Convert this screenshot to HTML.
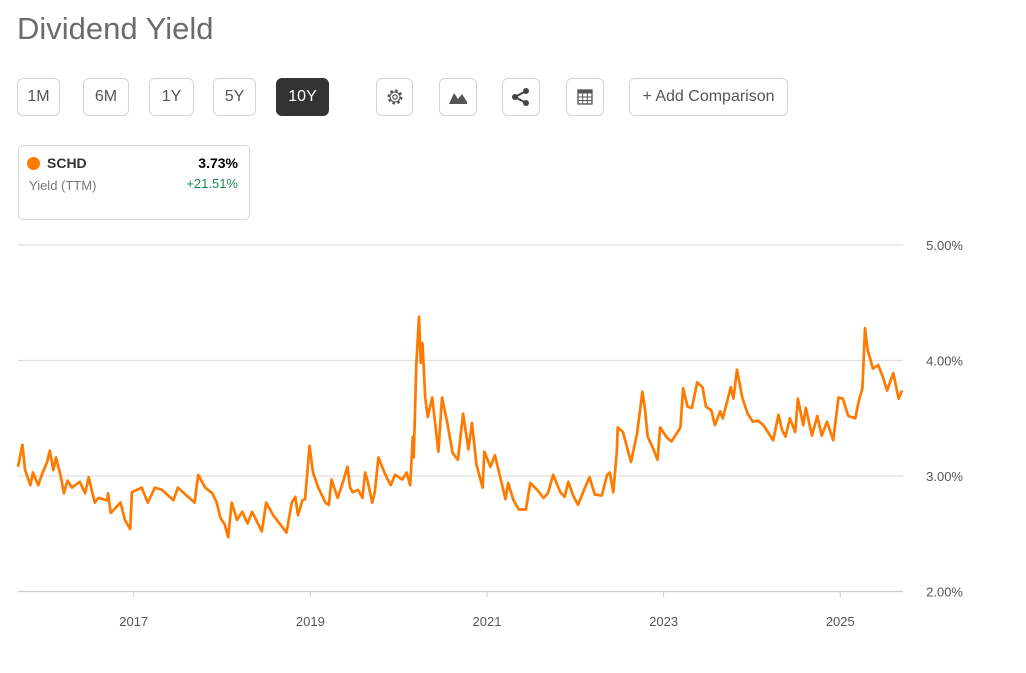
<!DOCTYPE html>
<html><head><meta charset="utf-8">
<style>
body{margin:0;width:1026px;height:673px;background:#fff;font-family:"Liberation Sans",Arial,sans-serif;position:relative;overflow:hidden}
.t{position:absolute;left:17px;top:11px;font-size:31px;color:#6b6b6b}
.b{position:absolute;top:78px;height:38px;box-sizing:border-box;border:1px solid #d4d4d4;border-radius:6px;display:flex;align-items:center;justify-content:center;font-size:16px;color:#555;background:#fff}
.b.on{background:#333;color:#fff;border-color:#333}
.lg{position:absolute;left:18px;top:145px;width:232px;height:75px;box-sizing:border-box;border:1px solid #d6d6d6;border-radius:5px}
</style></head><body>
<div class="t">Dividend Yield</div>
<div class="b" style="left:17px;width:43px">1M</div>
<div class="b" style="left:83px;width:46px">6M</div>
<div class="b" style="left:149px;width:45px">1Y</div>
<div class="b" style="left:213px;width:43px">5Y</div>
<div class="b on" style="left:276px;width:53px">10Y</div>
<div class="b" style="left:376px;width:37px"><svg width="20" height="20" viewBox="0 0 20 20"><circle cx="10" cy="10" r="6" fill="none" stroke="#555" stroke-width="3" stroke-dasharray="2.4 2.3"/><circle cx="10" cy="10" r="5" fill="#fff" stroke="#555" stroke-width="1.1"/><circle cx="10" cy="10" r="2.2" fill="none" stroke="#555" stroke-width="1.2"/></svg></div>
<div class="b" style="left:439px;width:38px"><svg width="20" height="16" viewBox="0 0 20 16"><path d="M1 15 L6 4 L10 10 L14 5 L19 13 L19 15 Z" fill="#555"/></svg></div>
<div class="b" style="left:502px;width:38px"><svg width="20" height="18" viewBox="0 0 20 18"><line x1="4" y1="9" x2="15" y2="3" stroke="#444" stroke-width="2"/><line x1="4" y1="9" x2="15" y2="15" stroke="#444" stroke-width="2"/><circle cx="4" cy="9" r="3" fill="#444"/><circle cx="15" cy="3" r="3" fill="#444"/><circle cx="15" cy="15" r="3" fill="#444"/></svg></div>
<div class="b" style="left:566px;width:38px"><svg width="16" height="16" viewBox="0 0 16 16"><rect x="1" y="1" width="14" height="14" fill="none" stroke="#555" stroke-width="1.3"/><rect x="1" y="1" width="14" height="3.5" fill="#555"/><line x1="1" y1="8" x2="15" y2="8" stroke="#555"/><line x1="1" y1="11.5" x2="15" y2="11.5" stroke="#555"/><line x1="5.7" y1="4" x2="5.7" y2="15" stroke="#555"/><line x1="10.3" y1="4" x2="10.3" y2="15" stroke="#555"/></svg></div>
<div class="b" style="left:629px;width:159px">+ Add Comparison</div>
<div class="lg">
<div style="position:absolute;left:8px;top:11px;width:13px;height:13px;border-radius:50%;background:#ff7a00"></div>
<div style="position:absolute;left:28px;top:9px;font-size:14px;font-weight:bold;color:#333">SCHD</div>
<div style="position:absolute;right:11px;top:9px;font-size:14px;font-weight:bold;color:#000">3.73%</div>
<div style="position:absolute;left:10px;top:32px;font-size:13px;color:#777">Yield (TTM)</div>
<div style="position:absolute;right:11px;top:30px;font-size:13px;color:#1a8a4a">+21.51%</div>
</div>
<svg id="ch" width="1026" height="673" style="position:absolute;left:0;top:0"></svg>
<script>
const dates=[2015.69,2015.74,2015.77,2015.83,2015.86,2015.92,2015.96,2016.02,2016.05,2016.09,2016.12,2016.17,2016.21,2016.25,2016.30,2016.39,2016.45,2016.49,2016.53,2016.56,2016.60,2016.70,2016.71,2016.74,2016.85,2016.90,2016.96,2016.98,2017.09,2017.16,2017.24,2017.32,2017.45,2017.50,2017.60,2017.69,2017.73,2017.81,2017.89,2017.94,2017.98,2018.03,2018.07,2018.11,2018.17,2018.23,2018.29,2018.34,2018.45,2018.50,2018.58,2018.66,2018.73,2018.75,2018.79,2018.83,2018.86,2018.91,2018.94,2018.99,2019.03,2019.09,2019.17,2019.21,2019.24,2019.31,2019.37,2019.42,2019.45,2019.48,2019.54,2019.59,2019.62,2019.65,2019.70,2019.73,2019.77,2019.85,2019.91,2019.96,2020.04,2020.09,2020.13,2020.16,2020.17,2020.20,2020.23,2020.25,2020.27,2020.30,2020.33,2020.38,2020.45,2020.49,2020.55,2020.61,2020.67,2020.73,2020.79,2020.83,2020.88,2020.95,2020.97,2021.04,2021.09,2021.15,2021.21,2021.24,2021.30,2021.36,2021.44,2021.49,2021.57,2021.64,2021.69,2021.75,2021.83,2021.88,2021.92,2021.97,2022.03,2022.11,2022.16,2022.22,2022.30,2022.36,2022.39,2022.43,2022.47,2022.48,2022.54,2022.63,2022.70,2022.76,2022.79,2022.82,2022.88,2022.93,2022.96,2023.04,2023.09,2023.19,2023.22,2023.27,2023.32,2023.38,2023.44,2023.48,2023.54,2023.58,2023.64,2023.67,2023.76,2023.79,2023.83,2023.89,2023.95,2024.01,2024.07,2024.13,2024.18,2024.24,2024.30,2024.34,2024.38,2024.43,2024.49,2024.52,2024.58,2024.61,2024.68,2024.74,2024.79,2024.85,2024.92,2024.98,2025.03,2025.09,2025.17,2025.21,2025.25,2025.28,2025.31,2025.37,2025.43,2025.48,2025.53,2025.60,2025.66,2025.70];
const yields=[3.08,3.27,3.05,2.92,3.03,2.92,3.01,3.12,3.22,3.05,3.16,3.01,2.85,2.96,2.90,2.95,2.85,2.99,2.86,2.77,2.81,2.79,2.85,2.68,2.77,2.62,2.54,2.86,2.90,2.77,2.90,2.88,2.79,2.90,2.83,2.77,3.01,2.90,2.85,2.77,2.64,2.58,2.47,2.77,2.62,2.69,2.59,2.69,2.52,2.77,2.66,2.58,2.51,2.60,2.77,2.82,2.66,2.79,2.80,3.26,3.03,2.90,2.77,2.75,2.97,2.81,2.95,3.08,2.90,2.86,2.88,2.81,3.03,2.95,2.77,2.86,3.16,3.01,2.92,3.01,2.97,3.03,2.92,3.34,3.16,3.96,4.38,3.98,4.15,3.68,3.51,3.68,3.21,3.68,3.46,3.20,3.14,3.54,3.23,3.46,3.10,2.90,3.21,3.08,3.18,2.99,2.80,2.94,2.79,2.71,2.71,2.94,2.88,2.81,2.85,3.01,2.86,2.82,2.95,2.84,2.75,2.90,2.99,2.84,2.83,3.01,3.03,2.86,3.21,3.42,3.38,3.12,3.37,3.73,3.57,3.34,3.24,3.14,3.42,3.33,3.30,3.42,3.76,3.60,3.59,3.81,3.77,3.60,3.57,3.44,3.56,3.50,3.77,3.67,3.92,3.68,3.54,3.47,3.48,3.44,3.38,3.31,3.53,3.40,3.34,3.50,3.38,3.67,3.44,3.59,3.35,3.52,3.35,3.47,3.31,3.68,3.67,3.52,3.50,3.65,3.76,4.28,4.09,3.93,3.96,3.86,3.74,3.89,3.67,3.74];
const yTicks=[2,3,4,5];
const yTickLabels=["2.00%","3.00%","4.00%","5.00%"];
const xTicks=[2017,2019,2021,2023,2025];
const xTickLabels=["2017","2019","2021","2023","2025"];
const X0=18,X1=903,T0=2015.69,T1=2025.71;
const sx=t=>X0+(t-T0)/(T1-T0)*(X1-X0);
const sy=v=>476-(v-3)*115.5;
const svg=document.getElementById('ch');const NS='http://www.w3.org/2000/svg';
function mk(tag,at,txt){const e=document.createElementNS(NS,tag);for(const k in at)e.setAttribute(k,at[k]);if(txt!==undefined)e.textContent=txt;svg.appendChild(e);return e;}
yTicks.forEach((v,i)=>{
 const g=mk('line',{x1:X0,x2:X1,y1:sy(v),y2:sy(v),stroke:v===2?'#ccc':'#e0e0e0','stroke-width':1.2});
 
 
 const l=mk('text',{x:963,y:sy(v)+5,'text-anchor':'end','font-size':13,fill:'#555','font-family':'Liberation Sans, sans-serif'},yTickLabels[i]);
 
 
});
xTicks.forEach((t,i)=>{
 const tk=mk('line',{x1:sx(t),x2:sx(t),y1:591,y2:597,stroke:'#ccc'});
 
 
 const l=mk('text',{x:sx(t),y:626,'text-anchor':'middle','font-size':13,fill:'#555','font-family':'Liberation Sans, sans-serif'},xTickLabels[i]);
 
 
});
const d=dates.map((t,i)=>(i?'L':'M')+sx(t).toFixed(1)+' '+sy(yields[i]).toFixed(1)).join(' ');
const p=mk('path',{d:d,fill:'none',stroke:'#ff7a00','stroke-width':2.7,'stroke-linejoin':'round'});


</script>
</body></html>
